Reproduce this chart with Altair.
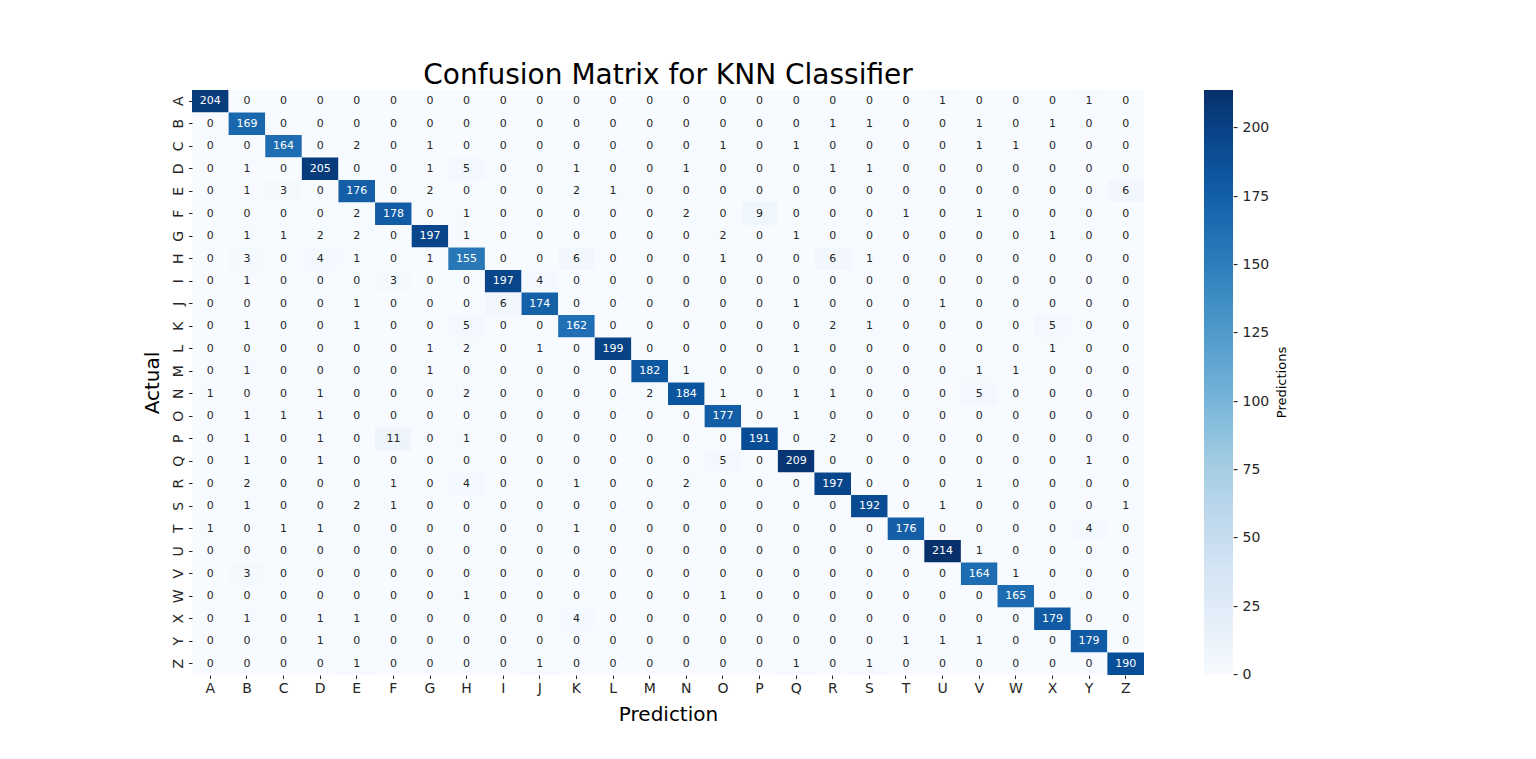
import altair as alt
import pandas as pd

labels = list("ABCDEFGHIJKLMNOPQRSTUVWXYZ")

row_A = [204,0,0,0,0,0,0,0,0,0,0,0,0,0,0,0,0,0,0,0,1,0,0,0,1,0]
row_B = [0,169,0,0,0,0,0,0,0,0,0,0,0,0,0,0,0,1,1,0,0,1,0,1,0,0]
row_C = [0,0,164,0,2,0,1,0,0,0,0,0,0,0,1,0,1,0,0,0,0,1,1,0,0,0]
row_D = [0,1,0,205,0,0,1,5,0,0,1,0,0,1,0,0,0,1,1,0,0,0,0,0,0,0]
row_E = [0,1,3,0,176,0,2,0,0,0,2,1,0,0,0,0,0,0,0,0,0,0,0,0,0,6]
row_F = [0,0,0,0,2,178,0,1,0,0,0,0,0,2,0,9,0,0,0,1,0,1,0,0,0,0]
row_G = [0,1,1,2,2,0,197,1,0,0,0,0,0,0,2,0,1,0,0,0,0,0,0,1,0,0]
row_H = [0,3,0,4,1,0,1,155,0,0,6,0,0,0,1,0,0,6,1,0,0,0,0,0,0,0]
row_I = [0,1,0,0,0,3,0,0,197,4,0,0,0,0,0,0,0,0,0,0,0,0,0,0,0,0]
row_J = [0,0,0,0,1,0,0,0,6,174,0,0,0,0,0,0,1,0,0,0,1,0,0,0,0,0]
row_K = [0,1,0,0,1,0,0,5,0,0,162,0,0,0,0,0,0,2,1,0,0,0,0,5,0,0]
row_L = [0,0,0,0,0,0,1,2,0,1,0,199,0,0,0,0,1,0,0,0,0,0,0,1,0,0]
row_M = [0,1,0,0,0,0,1,0,0,0,0,0,182,1,0,0,0,0,0,0,0,1,1,0,0,0]
row_N = [1,0,0,1,0,0,0,2,0,0,0,0,2,184,1,0,1,1,0,0,0,5,0,0,0,0]
row_O = [0,1,1,1,0,0,0,0,0,0,0,0,0,0,177,0,1,0,0,0,0,0,0,0,0,0]
row_P = [0,1,0,1,0,11,0,1,0,0,0,0,0,0,0,191,0,2,0,0,0,0,0,0,0,0]
row_Q = [0,1,0,1,0,0,0,0,0,0,0,0,0,0,5,0,209,0,0,0,0,0,0,0,1,0]
row_R = [0,2,0,0,0,1,0,4,0,0,1,0,0,2,0,0,0,197,0,0,0,1,0,0,0,0]
row_S = [0,1,0,0,2,1,0,0,0,0,0,0,0,0,0,0,0,0,192,0,1,0,0,0,0,1]
row_T = [1,0,1,1,0,0,0,0,0,0,1,0,0,0,0,0,0,0,0,176,0,0,0,0,4,0]
row_U = [0,0,0,0,0,0,0,0,0,0,0,0,0,0,0,0,0,0,0,0,214,1,0,0,0,0]
row_V = [0,3,0,0,0,0,0,0,0,0,0,0,0,0,0,0,0,0,0,0,0,164,1,0,0,0]
row_W = [0,0,0,0,0,0,0,1,0,0,0,0,0,0,1,0,0,0,0,0,0,0,165,0,0,0]
row_X = [0,1,0,1,1,0,0,0,0,0,4,0,0,0,0,0,0,0,0,0,0,0,0,179,0,0]
row_Y = [0,0,0,1,0,0,0,0,0,0,0,0,0,0,0,0,0,0,0,1,1,1,0,0,179,0]
row_Z = [0,0,0,0,1,0,0,0,0,1,0,0,0,0,0,0,1,0,1,0,0,0,0,0,0,190]

rows = [row_A,row_B,row_C,row_D,row_E,row_F,row_G,row_H,row_I,row_J,row_K,row_L,row_M,
        row_N,row_O,row_P,row_Q,row_R,row_S,row_T,row_U,row_V,row_W,row_X,row_Y,row_Z]

records = []
for actual, row in zip(labels, rows):
    for pred, v in zip(labels, row):
        records.append({"Actual": actual, "Prediction": pred, "v": v})
df = pd.DataFrame(records)

blues = ["#f7fbff", "#deebf7", "#c6dbef", "#9ecae1", "#6baed6",
         "#4292c6", "#2171b5", "#08519c", "#08306b"]
vmin = -0.05
vmax = 214
legend_values = [0, 25, 50, 75, 100, 125, 150, 175, 200]

FONT = "DejaVu Sans"

base = alt.Chart(df)

xenc = alt.X("Prediction:N", sort=labels, scale=alt.Scale(paddingInner=0, paddingOuter=0),
             axis=alt.Axis(title="Prediction", labelAngle=0, domain=False, tickSize=3.5,
                           tickColor="#262626", labelColor="#262626", labelFontSize=14,
                           labelFont=FONT, titleFont=FONT, titleFontSize=20,
                           titleFontWeight="normal", titleColor="#000000",
                           labelPadding=3, titlePadding=9))
yenc = alt.Y("Actual:N", sort=labels, scale=alt.Scale(paddingInner=0, paddingOuter=0),
             axis=alt.Axis(title="Actual", labelAngle=270, domain=False, tickSize=3.5,
                           tickColor="#262626", labelColor="#262626", labelFontSize=14,
                           labelFont=FONT, titleFont=FONT, titleFontSize=20,
                           titleFontWeight="normal", titleColor="#000000",
                           labelPadding=3, titlePadding=9))

rects = base.mark_rect().encode(
    x=xenc,
    y=yenc,
    color=alt.Color("v:Q",
                    scale=alt.Scale(domain=[vmin, vmax], range=blues, interpolate="rgb"),
                    legend=alt.Legend(title=None, values=legend_values, gradientLength=585,
                                      gradientThickness=29, offset=60,
                                      labelFontSize=14, labelFont=FONT, labelColor="#262626",
                                      labelOffset=0, gradientStrokeWidth=0,
                                      labelExpr="'- ' + datum.label",
                                      labelBaseline="middle", labelOverlap=False,
                                      direction="vertical", orient="right")),
)

texts = base.mark_text(font=FONT, fontSize=11).encode(
    x=alt.X("Prediction:N", sort=labels),
    y=alt.Y("Actual:N", sort=labels),
    text=alt.Text("v:Q"),
    color=alt.condition(alt.datum.v > 107, alt.value("#ffffff"), alt.value("#262626")),
)

cbar_title = alt.Chart(pd.DataFrame({"t": ["Predictions"]})).mark_text(
    font=FONT, fontSize=13, angle=270, color="#000000"
).encode(text="t:N", x=alt.value(1090), y=alt.value(292.5))

chart = alt.layer(rects, texts, cbar_title).properties(
    width=952, height=585,
    title=alt.Title("Confusion Matrix for KNN Classifier", font=FONT, fontSize=28,
                    fontWeight="normal", color="#000000", offset=0, anchor="middle"),
    autosize=alt.AutoSizeParams(type="none"),
    padding={"left": 184, "top": 82, "right": 370, "bottom": 60},
).configure_view(stroke=None)

chart.save("out.html", embed_options={"renderer": "svg", "actions": False})
